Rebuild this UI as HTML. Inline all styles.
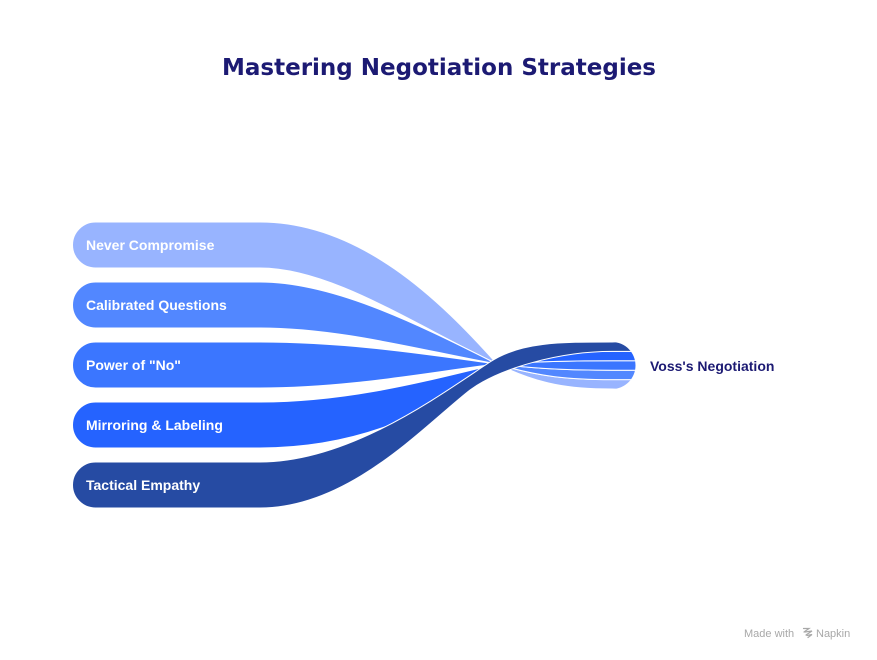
<!DOCTYPE html>
<html>
<head>
<meta charset="utf-8">
<style>
  html,body{margin:0;padding:0;background:#fff;}
  body{width:877px;height:660px;overflow:hidden;}
  svg{display:block;}
  text{font-family:"Liberation Sans", Arial, sans-serif;}
</style>
</head>
<body>
<svg width="877" height="660" viewBox="0 0 877 660" xmlns="http://www.w3.org/2000/svg">
  <defs>
    <clipPath id="endclip">
      <rect x="0" y="0" width="612" height="660"/>
      <circle cx="612" cy="365.5" r="23.5"/>
    </clipPath>
  </defs>

  <text x="439" y="75" text-anchor="middle" font-size="23" font-weight="bold" fill="#1c1a73" style="font-family:'DejaVu Sans', 'Liberation Sans', sans-serif;">Mastering Negotiation Strategies</text>

  <g clip-path="url(#endclip)" stroke="#ffffff" stroke-width="1" stroke-linejoin="round">
    <!-- Never Compromise -->
    <path fill="#98b4ff" d="M95.5,222 L260,222 C360,222 440,300 497,364 C540,377.1 570,379.6 612,379.6 L640,379.6 L640,389 L612,389 C570,389 540,385 497,364 C410,322 330,268 260,268 L95.5,268 A23,23 0 0 1 95.5,222 Z"/>
    <!-- Calibrated Questions -->
    <path fill="#5287ff" d="M95.5,282 L260,282 C330,282 410,320 497,364 C540,369.2 570,370.2 612,370.2 L640,370.2 L640,379.6 L612,379.6 C570,379.6 540,377.1 497,364 C420,350 340,328 260,328 L95.5,328 A23,23 0 0 1 95.5,282 Z"/>
    <!-- Power of No -->
    <path fill="#3b76ff" d="M95.5,342 L260,342 C350,342 430,355 497,364 C540,361.3 570,360.8 612,360.8 L640,360.8 L640,370.2 L612,370.2 C570,370.2 540,369.2 497,364 C430,372 350,388 260,388 L95.5,388 A23,23 0 0 1 95.5,342 Z"/>
    <!-- Mirroring & Labeling -->
    <path fill="#2563ff" d="M95.5,402 L260,402 C350,402 430,380 497,364 C540,353.4 570,351.4 612,351.4 L640,351.4 L640,360.8 L612,360.8 C570,360.8 540,361.3 497,364 C420,425 340,448 260,448 L95.5,448 A23,23 0 0 1 95.5,402 Z"/>
    <!-- Tactical Empathy -->
    <path fill="#264ba3" d="M95.5,462 L260,462 C350,462 440,395 490,362 C520,342 560,342 612,342 L640,342 L640,351.4 L612,351.4 C560,351.4 500,368 470,390 C425,425 350,508 260,508 L95.5,508 A23,23 0 0 1 95.5,462 Z"/>
  </g>

  <g font-size="14" font-weight="bold" fill="#ffffff">
    <text x="86" y="250">Never Compromise</text>
    <text x="86" y="310">Calibrated Questions</text>
    <text x="86" y="370">Power of "No"</text>
    <text x="86" y="430">Mirroring &amp; Labeling</text>
    <text x="86" y="490">Tactical Empathy</text>
  </g>

  <text x="650" y="371" font-size="14" font-weight="bold" fill="#1c1a73">Voss's Negotiation</text>

  <g fill="#a8a8a8">
    <text x="744" y="637" font-size="11">Made with</text>
    <g stroke="#a8a8a8" stroke-width="1.2" fill="none" stroke-linecap="round">
      <path d="M803.5,628.5 L809,628.5 L804,632"/>
      <path d="M805,632 L812,631 L806,635"/>
      <path d="M807,635.5 L812,634.5 L808,637.5"/>
    </g>
    <text x="816" y="637" font-size="11">Napkin</text>
  </g>
</svg>
</body>
</html>
